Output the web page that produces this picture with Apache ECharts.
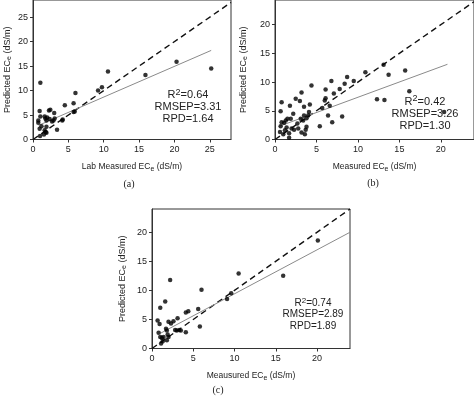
<!DOCTYPE html>
<html><head><meta charset="utf-8">
<script src="https://cdn.jsdelivr.net/npm/echarts@6/dist/echarts.min.js"></script>
<style>html,body{margin:0;padding:0;background:#fff}#c{width:474px;height:396px}</style>
</head><body><div id="c"></div>
<script>
// ---- data ----
const aX = [1.04,0.94,0.75,0.75,1.04,0.94,1.2,1.0,1.55,1.65,1.8,1.9,1.9,1.65,1.75,1.9,2.26,2.45,2.0,2.35,2.7,2.9,3.06,3.0,3.4,4.14,4.2,4.5,5.74,5.74,5.9,6.0,9.2,9.75,10.6,15.9,20.3,25.2];
const aY = [11.6,5.8,3.9,3.4,4.7,2.2,2.7,0.7,1.0,1.9,1.55,1.4,2.6,4.7,4.3,3.9,5.9,6.1,4.5,4.2,3.7,3.9,4.3,5.4,2.0,3.9,4.1,7.0,7.4,5.6,5.7,9.5,10.0,10.7,13.9,13.2,15.9,14.5];
const bX = [0.8,0.68,0.8,0.68,0.6,1.1,1.3,1.5,1.0,1.2,1.4,1.7,1.7,1.8,1.9,2.0,2.3,2.2,2.5,2.7,2.8,3.0,3.2,3.1,3.4,3.5,3.5,3.2,3.6,3.7,3.8,3.8,4.0,4.1,4.2,4.4,5.4,5.7,6.0,6.1,6.1,6.4,6.6,6.8,6.9,7.1,7.8,8.1,8.4,8.7,9.5,10.9,12.3,13.1,13.2,13.7,15.7,16.2,20.4];
const bY = [6.5,4.9,3.0,2.3,1.3,2.9,3.3,3.6,0.9,1.6,2.1,1.1,0.3,5.9,3.6,1.9,1.7,4.5,7.1,2.8,1.9,6.7,8.2,3.6,3.3,5.7,4.2,1.2,0.9,1.7,2.2,3.7,4.2,4.8,6.1,9.4,2.3,5.5,6.8,7.2,8.7,4.2,5.9,10.2,3.0,8.0,8.8,4.0,9.7,10.9,10.2,11.7,7.0,13.0,6.9,11.3,12.0,8.4,4.8];
const cX = [0.68,0.92,1.0,0.8,1.0,1.2,1.4,1.1,1.3,1.6,1.7,1.8,2.0,1.9,1.8,2.0,2.2,2.3,2.6,2.8,3.0,3.1,3.3,3.5,4.1,4.1,4.4,5.6,5.8,6.0,9.1,9.6,10.5,15.9,20.1];
const cY = [4.8,4.2,7.0,2.7,2.0,1.8,2.0,0.85,1.25,8.1,3.4,3.1,4.6,2.4,1.4,2.0,11.8,4.3,4.7,3.2,3.1,5.2,3.2,3.1,2.8,6.2,6.4,6.8,3.8,10.1,8.5,9.5,12.9,12.5,18.6];
const aIdent = [0, 28], bIdent = [0, 24], cIdent = [0, 24];
const aRegX = [0.8, 25.2], aRegY = [2.9, 18.2];
const bRegX = [0.5, 20.8], bRegY = [2.3, 13.1];
const cRegX = [1.0, 24], cRegY = [2.6, 20.0];
const aStats = ['0.64','3.31','1.64'];
const bStats = ['0.42','3.26','1.30'];
const cStats = ['0.74','2.89','1.89'];
const xNames = ['Lab Measured EC{s|e} (dS/m)','Measured EC{s|e} (dS/m)','Meausured EC{s|e} (dS/m)'];
const yName = 'Predicted EC{s|e} (dS/m)';
const panelLabels = ['(a)','(b)','(c)'];
// ---- chart ----
const SANS = 'Liberation Sans, Arial, sans-serif';
const TXT = '#222';
const pairs = (xs, ys) => xs.map((x, i) => [x, ys[i]]);
const grids = [
  {left: 33, top: -1.5, width: 198, height: 141},
  {left: 275, top: -1.5, width: 200, height: 141},
  {left: 152, top: 209, width: 198, height: 139.5}
];
const xMaxes = [28, 24, 24];
const yMaxes = [28.5, 24.3, 24];
const yGaps = [20, 26, 24];
const nameRich = {s: {fontSize: 7, fontFamily: SANS, color: TXT, verticalAlign: 'bottom', padding: [4,0,0,0]}};
const xAxis = [], yAxis = [];
grids.forEach((g, i) => {
  const common = {
    type: 'value', gridIndex: i, min: 0, interval: 5,
    axisLine: {show: true, lineStyle: {color: '#333', width: 1}},
    axisTick: {show: true, length: 3, lineStyle: {color: '#333'}},
    splitLine: {show: false},
    axisLabel: {fontFamily: SANS, fontSize: 9, color: TXT, showMaxLabel: false,
      formatter: v => (v % 5 === 0 ? String(v) : '')},
    nameLocation: 'middle'
  };
  xAxis.push(Object.assign({}, common, {
    max: xMaxes[i], name: xNames[i], nameGap: 22,
    nameTextStyle: {fontFamily: SANS, fontSize: 8.5, color: TXT, rich: nameRich},
    axisLabel: Object.assign({}, common.axisLabel, {margin: 6})
  }));
  yAxis.push(Object.assign({}, common, {
    max: yMaxes[i], name: yName, nameGap: yGaps[i],
    nameTextStyle: {fontFamily: SANS, fontSize: 9, color: TXT, rich: nameRich},
    axisLabel: Object.assign({}, common.axisLabel, {margin: 5})
  }));
});
const series = [];
const sets = [[aX,aY,aIdent,aRegX,aRegY],[bX,bY,bIdent,bRegX,bRegY],[cX,cY,cIdent,cRegX,cRegY]];
sets.forEach((s, i) => {
  series.push({type: 'scatter', xAxisIndex: i, yAxisIndex: i, data: pairs(s[0], s[1]),
    symbolSize: 4.5, itemStyle: {color: '#000'}, z: 3});
  series.push({type: 'line', xAxisIndex: i, yAxisIndex: i, data: pairs(s[2], s[2]),
    symbol: 'none', lineStyle: {color: '#111', width: 1.4, type: [6, 4]}, z: 2});
  series.push({type: 'line', xAxisIndex: i, yAxisIndex: i, data: pairs(s[3], s[4]),
    symbol: 'none', lineStyle: {color: '#8a8a8a', width: 1}, z: 2});
});
const statPos = [
  {x: 188, y: [95, 107, 119], fs: 11},
  {x: 425, y: [101.5, 113.5, 125.5], fs: 11},
  {x: 313, y: [303.5, 314.5, 326.5], fs: 10}
];
const statsAll = [aStats, bStats, cStats];
const graphic = [];
statPos.forEach((p, i) => {
  const st = statsAll[i];
  const lines = ['R{s|2}=' + st[0], 'RMSEP=' + st[1], 'RPD=' + st[2]];
  lines.forEach((t, j) => {
    graphic.push({type: 'text', x: p.x, y: p.y[j], z: 10, style: {
      text: t, fill: TXT, font: p.fs + 'px ' + SANS, align: 'center', verticalAlign: 'middle',
      rich: {s: {fontSize: p.fs - 2, fontFamily: SANS, fill: TXT, verticalAlign: 'top', padding: [0,0,5,0]}}
    }});
  });
});
const labPos = [[129, 184], [373, 183], [218, 390]];
labPos.forEach((p, i) => {
  graphic.push({type: 'text', x: p[0], y: p[1], style: {text: panelLabels[i], fill: TXT,
    font: '10px Liberation Serif, Times New Roman, serif', align: 'center', verticalAlign: 'middle'}});
});
const chart = echarts.init(document.getElementById('c'), null, {renderer: 'canvas'});
chart.setOption({animation: false, grid: grids.map(g => Object.assign({show: true, borderColor: '#333', borderWidth: 1, backgroundColor: 'transparent'}, g)),
  xAxis, yAxis, series, graphic});
</script></body></html>
